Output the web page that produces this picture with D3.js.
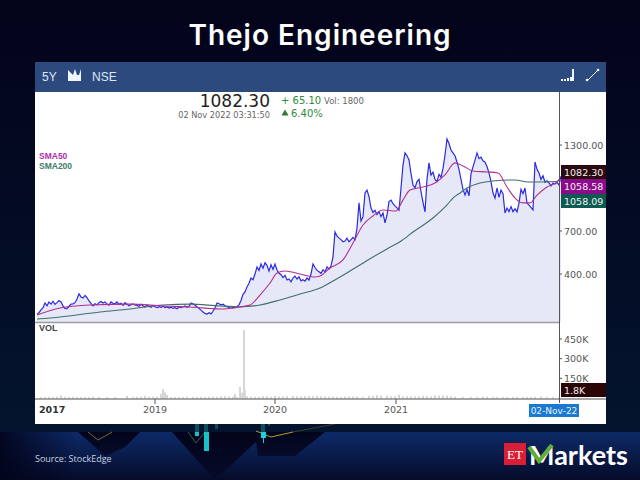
<!DOCTYPE html>
<html>
<head>
<meta charset="utf-8">
<script src="https://cdn.jsdelivr.net/npm/d3@7/dist/d3.min.js"></script>
<style>
html,body{margin:0;padding:0;background:#02031a;overflow:hidden}
svg{display:block}
text{font-family:"DejaVu Sans",sans-serif}
</style>
</head>
<body>
<svg id="chart" width="640" height="480"></svg>
<script>
// Closing prices, one sample every two sessions across the five-year window
const priceStep = 2;
const priceValues = [
120,130,150,165,198,178,205,190,210,188,200,215,205,178,160,158,175,190,192,200,226,
262,240,232,250,235,212,195,178,192,185,200,208,198,205,190,182,205,196,192,205,
188,196,182,200,190,178,186,192,184,180,175,188,178,170,182,175,168,180,172,165,
172,168,175,166,170,162,168,160,165,158,170,165,172,178,168,175,198,192,182,172,
160,148,135,125,121,130,122,140,165,198,192,185,190,178,172,168,172,165,170,172,
185,215,258,275,310,335,372,360,400,449,425,470,440,478,460,420,465,432,470,428,
405,395,375,390,358,365,345,372,385,365,380,352,360,350,372,358,400,470,445,425,
415,405,430,415,450,435,455,520,693,665,650,640,625,630,650,625,640,655,640,720,
896,770,800,965,985,940,860,830,845,815,835,800,825,756,810,905,915,890,875,861,
845,1000,1160,1245,1225,1196,1100,1020,1000,1045,1060,975,900,833,1060,1175,1090,1110,1060,1045,
1095,1075,1135,1230,1342,1310,1265,1245,1225,1180,1130,1060,990,951,990,945,1100,1147,1195,1245,
1205,1215,1190,1180,1150,1105,1045,965,930,1000,935,985,960,826,860,835,870,835,855,833,
895,990,960,1000,895,880,865,847,1182,1130,1105,1060,1085,1040,1050,1035,1015,1035,1028,1040,
1021,1082.3];

const sma50Sessions = [0,23,53,93,126,153,183,203,213,223,233,240,248,263,278,283,293,306,316,326,336,346,359,366,373,386,398,408,418,426,436,450,461,470,478,486,493,500,510,520,522];
const sma50Values = [114,163,184,190,177,170,156,170,184,253,337,407,421,400,379,386,442,498,616,742,805,847,840,917,986,1007,1035,1091,1175,1154,1119,1112,1105,1007,930,896,896,951,1007,1042,1058.58];

const sma200Sessions = [0,23,63,93,126,153,183,203,223,243,263,283,296,313,331,350,363,376,396,410,416,423,430,443,456,478,491,503,520,522];
const sma200Values = [86,100,135,156,184,190,177,172,184,219,260,302,351,421,498,575,625,693,791,882,930,965,1000,1035,1049,1056,1042,1042,1045,1058.09];

const volumeSessions = [4,8,12,16,20,24,28,32,36,40,44,48,52,56,62,70,78,90,96,100,104,108,112,116,120,124,130,134,138,142,146,150,156,160,164,168,172,176,180,184,188,192,196,200,210,214,218,222,226,230,234,238,242,246,250,256,260,264,268,272,276,280,284,288,292,296,300,304,308,312,316,320,326,332,336,340,344,350,354,358,362,366,370,374,378,382,386,390,394,398,402,406,410,414,418,426,434,440,446,450,456,460,466,470,476,480,486,490,494,498,504,510,516,522];
const volumeValues = [7,8,9,8,10,19,10,8,9,8,7,8,7,11,8,7,7,15,9,9,11,17,11,9,9,9,8,7,7,8,7,10,8,8,9,9,10,10,8,13,13,11,10,9,13,11,9,8,14,14,9,18,12,13,14,15,13,12,14,14,13,15,13,12,11,10,9,9,10,12,11,11,9,16,15,22,18,16,13,14,24,13,13,12,12,13,17,14,12,20,18,19,17,13,10,9,9,9,9,10,9,8,7,7,7,9,8,8,8,9,12,9,7,1.8];
const volumeSpikeSessions = [124,126,128,130,198,203,205,207,208];
const volumeSpikeValues = [30,68,42,24,30,84,40,519,58];

const priceTicks = [400,700,1300];
const volumeTicks = [150000,300000,450000];
const dateTicks = [{label:"2019",session:118},{label:"2020",session:238},{label:"2021",session:359}];

const title = "Thejo Engineering";
const lastPrice = 1082.30, lastSma50 = 1058.58, lastSma200 = 1058.09, lastVolume = 1800;

const svg = d3.select("#chart");
const defs = svg.append("defs");
const floorGrad = defs.append("linearGradient").attr("id","floor").attr("x1",0).attr("x2",0).attr("y1",0).attr("y2",1);
floorGrad.append("stop").attr("offset","0%").attr("stop-color","#0d2a68");
floorGrad.append("stop").attr("offset","100%").attr("stop-color","#060b2a");
const shadeGrad = defs.append("linearGradient").attr("id","edge").attr("x1",0).attr("x2",1).attr("y1",0).attr("y2",0);
shadeGrad.append("stop").attr("offset","0%").attr("stop-color","#02031a").attr("stop-opacity",.9);
shadeGrad.append("stop").attr("offset","12%").attr("stop-color","#02031a").attr("stop-opacity",0);
const valleyGrad = defs.append("linearGradient").attr("id","valley").attr("x1",0).attr("x2",0).attr("y1",0).attr("y2",1);
valleyGrad.append("stop").attr("offset","0%").attr("stop-color","#03041a");
valleyGrad.append("stop").attr("offset","100%").attr("stop-color","#060b2a");
const sideGrad = defs.append("linearGradient").attr("id","side").attr("x1",0).attr("x2",0).attr("y1",0).attr("y2",1);
sideGrad.append("stop").attr("offset","0%").attr("stop-color","#03031a");
sideGrad.append("stop").attr("offset","100%").attr("stop-color","#041630");

// Page backdrop with its dark silhouette and trading motifs
svg.append("rect").attr("width",640).attr("height",480).attr("fill","url(#side)");
svg.append("rect").attr("y",432).attr("width",640).attr("height",48).attr("fill","url(#floor)");
svg.append("rect").attr("y",432).attr("width",640).attr("height",48).attr("fill","url(#edge)");
const outline = d3.line();
[[[78,432],[105,456],[125,447],[140,432]],[[172,432],[215,480],[258,440],[272,432]],[[255,432],[258,456],[295,456],[325,432]]]
  .forEach(p=>svg.append("path").attr("d",outline(p)+"Z").attr("fill","url(#valley)"));
svg.append("path").attr("d",outline([[88,432],[98,440],[112,432]])).attr("fill","none").attr("stroke","#8f8236").attr("stroke-width",.8);
svg.append("path").attr("d",outline([[188,432],[196,443],[205,432]])).attr("fill","none").attr("stroke","#2c7f58").attr("stroke-width",.8);
svg.append("path").attr("d",outline([[256,431],[271,437],[293,432]])).attr("fill","none").attr("stroke","#c2ad3e").attr("stroke-width",.9);
svg.append("path").attr("d",outline([[293,432],[335,424]])).attr("fill","none").attr("stroke","#4a4a30").attr("stroke-width",.8);
[[195,424,4,8,"#0c4f5c"],[204,424,4,8,"#0c4f5c"],[215,424,3,5,"#0c4f5c"],[261,424,4,8,"#0c4f5c"],[268,424,2,2,"#0c4f5c"],
 [195,432,4,4,"#18c0c8"],[204,432,5,19,"#18c0c8"],[261,432,5,6,"#18d0e0"],[263,438,1,5,"#18d0e0"]].forEach(c=>
  svg.append("rect").attr("x",c[0]).attr("y",c[1]).attr("width",c[2]).attr("height",c[3]).attr("fill",c[4]));

svg.append("text").attr("x",320).attr("y",45).attr("text-anchor","middle")
  .attr("fill","#fff").attr("font-size",28).attr("font-weight",600)
  .style("font-family","Inter, sans-serif").style("letter-spacing","1px").text(title);

// Chart card and header strip
svg.append("rect").attr("x",35).attr("y",62).attr("width",571).attr("height",362).attr("fill","#fff");
svg.append("rect").attr("x",35).attr("y",62).attr("width",571).attr("height",30).attr("fill","#2d4a7f");
svg.append("text").attr("x",42).attr("y",81).attr("fill","#dfe6f2").attr("font-size",12).style("font-family","Liberation Sans").text("5Y");
svg.append("path").attr("d","M68 81V70L71 73L73 75L75 69L77 75L79 75L81 69V81Z").attr("fill","#f2f5fa");
svg.append("text").attr("x",92).attr("y",81).attr("fill","#dfe6f2").attr("font-size",12).style("font-family","Liberation Sans").text("NSE");
[[561,79,2,2],[564,79,2,2],[567,78,2,3],[570,77,2,4],[572,69,2,12]].forEach(b=>
  svg.append("rect").attr("x",b[0]).attr("y",b[1]).attr("width",b[2]).attr("height",b[3]).attr("fill","#f2f5fa"));
svg.append("line").attr("x1",588).attr("y1",80).attr("x2",598).attr("y2",70).attr("stroke","#f2f5fa").attr("stroke-width",1);
svg.append("circle").attr("cx",587).attr("cy",80).attr("r",1.3).attr("fill","#f2f5fa");
svg.append("circle").attr("cx",598).attr("cy",70).attr("r",1.3).attr("fill","#f2f5fa");

// Scales
const x = d3.scaleLinear().domain([0,522]).range([37,559]);
const y = d3.scaleLinear().domain([400,1300]).range([274,145]);
const vol = d3.scaleLinear().domain([0,450000]).range([398,339]);
const baseY = 322;

// Price area and moving averages
const priceRows = priceValues.map((v,i)=>[i*priceStep,v]);
svg.append("path").datum(priceRows)
  .attr("d",d3.area().x(d=>x(d[0])).y0(baseY).y1(d=>y(d[1])))
  .attr("fill","#e6e8f8");
const lineFor = d3.line().x(d=>x(d[0])).y(d=>y(d[1]));
svg.append("path").datum(priceRows).attr("d",lineFor).attr("fill","none").attr("stroke","#2a2ae0").attr("stroke-width",1.2);
const smooth = d3.line().x(d=>x(d[0])).y(d=>y(d[1])).curve(d3.curveMonotoneX);
svg.append("path").datum(d3.zip(sma200Sessions,sma200Values))
  .attr("d",smooth).attr("fill","none").attr("stroke","#3f6f68").attr("stroke-width",1.1);
svg.append("path").datum(d3.zip(sma50Sessions,sma50Values))
  .attr("d",smooth).attr("fill","none").attr("stroke","#b0308f").attr("stroke-width",1.1);

// Volume bars
const volBars = d3.zip(volumeSessions,volumeValues).concat(d3.zip(volumeSpikeSessions,volumeSpikeValues));
svg.append("g").selectAll("rect").data(volBars).join("rect")
  .attr("x",d=>x(d[0])-1).attr("width",2)
  .attr("y",d=>vol(d[1]*1000)).attr("height",d=>vol(0)-vol(d[1]*1000)+1)
  .attr("fill","#d6d6d6");

// Panel rules
svg.append("line").attr("x1",35).attr("x2",559).attr("y1",baseY+.5).attr("y2",baseY+.5).attr("stroke","#9a9aa0").attr("stroke-width",1.4);
svg.append("line").attr("x1",35).attr("x2",606).attr("y1",399).attr("y2",399).attr("stroke","#8a8a8a").attr("stroke-width",1.4);
svg.append("line").attr("x1",559.5).attr("x2",559.5).attr("y1",92).attr("y2",403).attr("stroke","#555").attr("stroke-width",1);

// Right-hand axes
const axisText = "#555";
svg.append("g").selectAll("g").data(priceTicks).join("g").each(function(t){
  const g = d3.select(this);
  g.append("line").attr("x1",560).attr("x2",562).attr("y1",y(t)).attr("y2",y(t)).attr("stroke","#555");
  g.append("text").attr("x",564).attr("y",y(t)+3.5).attr("font-size",9.5).attr("fill",axisText).text(d3.format(".2f")(t));
});
svg.append("g").selectAll("g").data(volumeTicks).join("g").each(function(t){
  const g = d3.select(this);
  g.append("line").attr("x1",560).attr("x2",562).attr("y1",vol(t)).attr("y2",vol(t)).attr("stroke","#555");
  g.append("text").attr("x",564).attr("y",vol(t)+3.5).attr("font-size",9.5).attr("fill",axisText).text(t/1000+"K");
});

// Last-value tags
[[165,lastPrice,"#2a0a0c"],[179,lastSma50,"#8c0a8c"],[194,lastSma200,"#0c5a50"]].forEach(r=>{
  svg.append("rect").attr("x",561).attr("y",r[0]).attr("width",45).attr("height",r[0]===179?15:14).attr("fill",r[2]);
  svg.append("text").attr("x",564).attr("y",r[0]+10.5).attr("font-size",9.5).attr("fill","#f2f2f2").text(d3.format(".2f")(r[1]));
});
svg.append("rect").attr("x",561).attr("y",383).attr("width",45).attr("height",14).attr("fill","#2a0505");
svg.append("text").attr("x",564).attr("y",393.5).attr("font-size",9.5).attr("fill","#eee").text((lastVolume/1000).toFixed(1)+"K");

// Date axis
svg.append("text").attr("x",39).attr("y",413).attr("font-size",9.5).attr("font-weight",700).attr("fill","#333").text("2017");
dateTicks.forEach(d=>{
  svg.append("line").attr("x1",x(d.session)).attr("x2",x(d.session)).attr("y1",399).attr("y2",404).attr("stroke","#555");
  svg.append("text").attr("x",x(d.session)).attr("y",413).attr("text-anchor","middle").attr("font-size",9.5).attr("fill",axisText).text(d.label);
});
svg.append("rect").attr("x",529).attr("y",404).attr("width",50).attr("height",13).attr("fill","#1a7ad2");
svg.append("text").attr("x",554).attr("y",414).attr("text-anchor","middle").attr("font-size",9).attr("fill","#e8f1fb").text("02-Nov-22");

// Quote block
svg.append("text").attr("x",270).attr("y",106.5).attr("text-anchor","end").attr("font-size",17).attr("fill","#222").text(d3.format(".2f")(lastPrice));
svg.append("text").attr("x",270).attr("y",118).attr("text-anchor","end").attr("font-size",8.2).attr("fill","#666").text("02 Nov 2022 03:31:50");
svg.append("text").attr("x",281).attr("y",104).attr("font-size",10).attr("fill","#2f8a3a").text("+ 65.10");
svg.append("text").attr("x",324).attr("y",104).attr("font-size",8.5).attr("fill","#666").text("Vol: "+lastVolume);
svg.append("path").attr("d",d3.symbol(d3.symbolTriangle,22)()).attr("transform","translate(285,113.5)").attr("fill","#2f7a3a");
svg.append("text").attr("x",291).attr("y",117).attr("font-size",10).attr("fill","#2f8a3a").text("6.40%");

svg.append("text").attr("x",39).attr("y",159).attr("font-size",8.5).attr("font-weight",700).attr("fill","#b02fa8").style("font-family","Liberation Sans").text("SMA50");
svg.append("text").attr("x",39).attr("y",169).attr("font-size",8.5).attr("font-weight",700).attr("fill","#3f7a68").style("font-family","Liberation Sans").text("SMA200");
svg.append("text").attr("x",39).attr("y",331).attr("font-size",9).attr("font-weight",700).attr("fill","#444").style("font-family","Liberation Sans").text("VOL");

// Footer
svg.append("text").attr("x",35).attr("y",462).attr("font-size",9).attr("fill","#c8d2e0").style("font-family","Open Sans").text("Source: StockEdge");
svg.append("rect").attr("x",504).attr("y",443).attr("width",22).attr("height",22).attr("fill","#d81f36");
svg.append("text").attr("x",515).attr("y",459).attr("text-anchor","middle").attr("font-size",13).attr("fill","#fff").style("font-family","Liberation Serif").text("ET");
svg.append("text").attr("x",529).attr("y",465).attr("font-size",27).attr("font-weight",700).attr("fill","#fff").style("font-family","Lato").text("Markets");
svg.append("path").attr("d","M529 447L539 461L552 445").attr("fill","none").attr("stroke","#5fae3c").attr("stroke-width",4);
</script>
</body>
</html>
